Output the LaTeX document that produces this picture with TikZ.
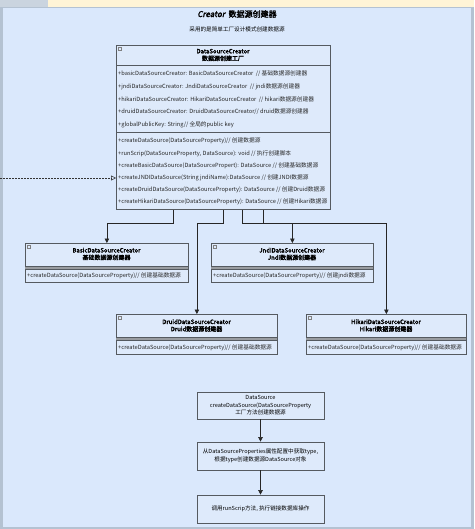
\documentclass[tikz,border=0pt]{standalone}
\usepackage{fontspec}
\setmainfont{Noto Sans CJK SC}[AutoFakeBold=2.5,AutoFakeSlant=0.2]
\usetikzlibrary{arrows.meta}
\definecolor{bgblue}{HTML}{DAE8FC}
\definecolor{boxfill}{HTML}{DEEAFB}
\definecolor{topyel}{HTML}{FFF4D6}
\definecolor{edgegray}{HTML}{B4C2D2}
\definecolor{boxline}{HTML}{555A60}
\begin{document}
\begin{tikzpicture}[x=1pt,y=-1pt,
  umlbox/.style={draw=boxline, line width=0.75pt, fill=boxfill, inner sep=0pt},
  flowbox/.style={draw=boxline, line width=0.75pt, fill=boxfill, inner sep=0pt, align=center, font=\fontsize{5.6}{7.6}\selectfont},
  txt/.style={font=\fontsize{5.7}{6}\selectfont, anchor=west, inner sep=0pt, text=black!85},
  hdr/.style={font=\fontsize{6}{7.2}\selectfont\bfseries, align=center, inner sep=0pt},
  conn/.style={draw=black!85, line width=0.6pt, -{Triangle[length=4.5pt,width=4.5pt]}},
  sep/.style={draw=boxline, line width=0.75pt},
  icon/.style={draw=gray, line width=0.3pt},
]
\useasboundingbox (0,0) rectangle (474,529);
% background frame
\fill[bgblue] (0,0) rectangle (474,529);
\fill[topyel] (0,0) rectangle (474,7);
\fill[edgegray!70] (0,0) rectangle (48,7);
\draw[edgegray, line width=0.6pt] (0,7) -- (474,7);
\fill[edgegray] (0,7) rectangle (3,529);
\fill[edgegray] (471,7) rectangle (474,529);
\fill[edgegray] (0,526.5) rectangle (474,529);

% title
\node[font=\fontsize{8}{9}\selectfont\bfseries, inner sep=0pt] (title) at (237,14) {\textit{Creator}\ \ 数据源创建器};
\node[font=\fontsize{5.6}{6}\selectfont, inner sep=0pt] (sub) at (237,29) {采用的是简单工厂设计模式创建数据源};

% main class
\node[umlbox, minimum width=214, minimum height=164, anchor=north west] (main) at (116,45) {};
\draw[icon] (118.5,47) rectangle (121.5,50);
\node[hdr] (mainhdr) at (223,55) {DataSourceCreator\\数据源创建工厂};
\draw[sep] (116,65) -- (330,65);
\node[txt] (a1) at (118,74) {+basicDataSourceCreator: BasicDataSourceCreator\ \ // 基础数据源创建器};
\node[txt] (a2) at (118,87) {+jndiDataSourceCreator: JndiDataSourceCreator\ \ // jndi数据源创建器};
\node[txt] (a3) at (118,99.5) {+hikariDataSourceCreator: HikariDataSourceCreator\ \ // hikari数据源创建器};
\node[txt] (a4) at (118,112) {+druidDataSourceCreator: DruidDataSourceCreator// druid数据源创建器};
\node[txt] (a5) at (118,124.5) {+globalPublicKey: String// 全局的public key};
\draw[sep] (116,132) -- (330,132);
\node[txt] (m1) at (118,141) {+createDataSource(DataSourceProperty)// 创建数据源};
\node[txt] (m2) at (118,153.5) {+runScrip(DataSourceProperty, DataSource): void // 执行创建脚本};
\node[txt] (m3) at (118,165.5) {+createBasicDataSource(DataSourcePropert): DataSource // 创建基础数据源};
\node[txt] (m4) at (118,178) {+createJNDIDataSource(String jndiName):DataSource // 创建JNDI数据源};
\node[txt] (m5) at (118,190) {+createDruidDataSource(DataSourceProperty): DataSource // 创建Druid数据源};
\node[txt] (m6) at (118,202) {+createHikariDataSource(DataSourceProperty): DataSource // 创建Hikari数据源};

% dashed incoming
\coordinate (dstart) at (0,178);
\draw[draw=black!80, line width=0.5pt, dash pattern=on 1.5pt off 1.5pt, -{Triangle[open,length=5pt,width=5pt]}] (dstart) -- (main.west |- dstart);

% Basic
\node[umlbox, minimum width=163, minimum height=39, anchor=north west] (basic) at (25,243) {};
\draw[icon] (27.5,245) rectangle (30.5,248);
\node[hdr] (basichdr) at (106.5,254) {BasicDataSourceCreator\\基础数据源创建器};
\fill[boxline!60] (25,266) rectangle (188,269);
\draw[sep] (25,266) -- (188,266) (25,269) -- (188,269);
\node[txt] (b1) at (27,276) {+createDataSource(DataSourceProperty)// 创建基础数据源};

% Jndi
\node[umlbox, minimum width=162, minimum height=39, anchor=north west] (jndi) at (211,243) {};
\draw[icon] (213.5,245) rectangle (216.5,248);
\node[hdr] (jndihdr) at (292,254) {JndiDataSourceCreator\\Jndi数据源创建器};
\fill[boxline!60] (211,266) rectangle (373,269);
\draw[sep] (211,266) -- (373,266) (211,269) -- (373,269);
\node[txt] (j1) at (213,276) {+createDataSource(DataSourceProperty)// 创建jndi数据源};

% Druid
\node[umlbox, minimum width=161, minimum height=40, anchor=north west] (druid) at (116,314) {};
\draw[icon] (118.5,316) rectangle (121.5,319);
\node[hdr] (druidhdr) at (196.5,325.5) {DruidDataSourceCreator\\Druid数据源创建器};
\fill[boxline!60] (116,337) rectangle (277,340);
\draw[sep] (116,337) -- (277,337) (116,340) -- (277,340);
\node[txt] (d1) at (118,347.5) {+createDataSource(DataSourceProperty)// 创建基础数据源};

% Hikari
\node[umlbox, minimum width=160, minimum height=40, anchor=north west] (hikari) at (306,314) {};
\draw[icon] (308.5,316) rectangle (311.5,319);
\node[hdr] (hikarihdr) at (386,325.5) {HikariDataSourceCreator\\Hikari数据源创建器};
\fill[boxline!60] (306,337) rectangle (466,340);
\draw[sep] (306,337) -- (466,337) (306,340) -- (466,340);
\node[txt] (h1) at (308,347.5) {+createDataSource(DataSourceProperty)// 创建基础数据源};

% connectors
\draw[conn] ([xshift=-50pt]main.south) -- ++(0,14) -| (basic.north);
\draw[conn] (main.south) -- ++(0,14) -| (druid.north);
\draw[conn] ([xshift=19pt]main.south) -- ++(0,14) -| (jndi.north);
\draw[conn] ([xshift=40pt]main.south) -- ++(0,14) -| (hikari.north);

% flow
\node[flowbox, minimum width=127, minimum height=27] (f1) at (260.5,405.5) {DataSource\\createDataSource(DataSourceProperty\\工厂方法创建数据源};
\node[flowbox, minimum width=127, minimum height=28] (f2) at (260.5,456) {从DataSourceProperties属性配置中获取type,\\根据type创建数据源DataSource对象};
\node[flowbox, minimum width=127, minimum height=28] (f3) at (260.5,509) {调用runScrip方法, 执行链接数据库操作};
\draw[conn] (f1) -- (f2);
\draw[conn] (f2) -- (f3);
\end{tikzpicture}
\end{document}
